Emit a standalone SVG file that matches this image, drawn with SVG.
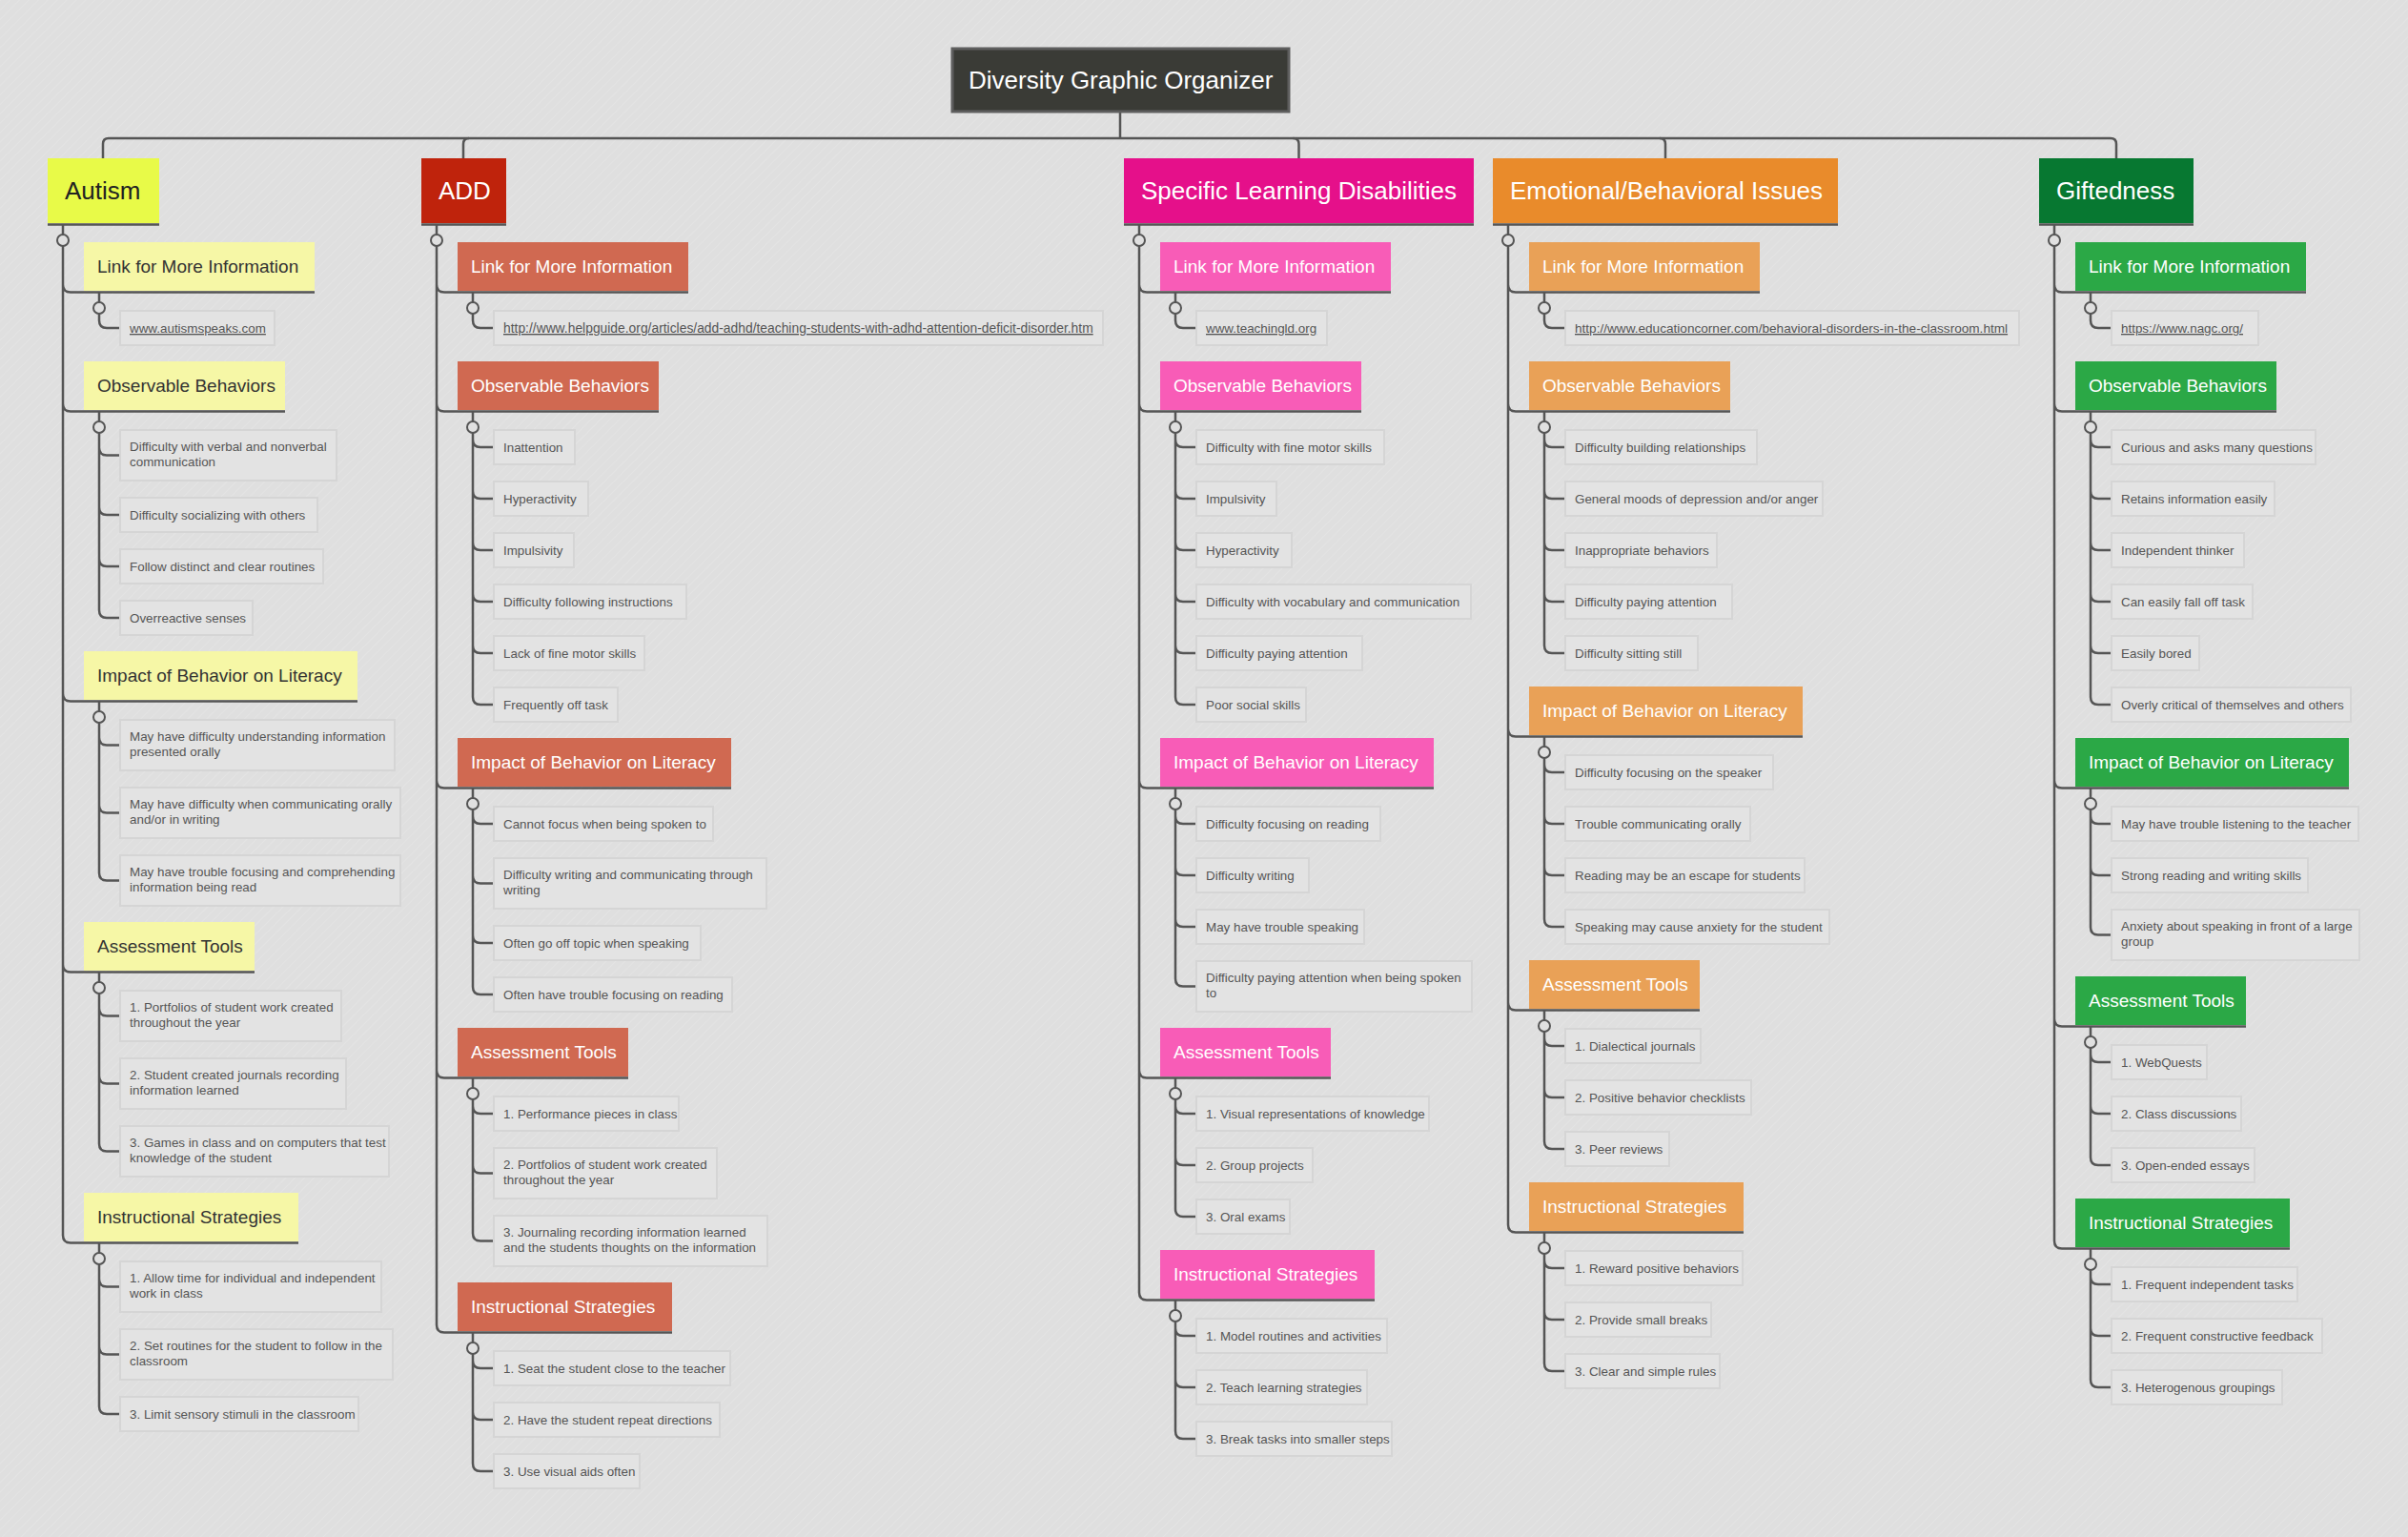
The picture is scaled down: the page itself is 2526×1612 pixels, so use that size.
<svg xmlns="http://www.w3.org/2000/svg" width="2526" height="1612" viewBox="0 0 2526 1612">
<defs>
<pattern id="bgp" width="7" height="7" patternUnits="userSpaceOnUse" patternTransform="rotate(45)">
<rect width="7" height="7" fill="#dfdfdf"/><line x1="0" y1="0" x2="0" y2="7" stroke="#e3e3e3" stroke-width="2"/>
</pattern>
<style>
text{font-family:'Liberation Sans',Arial,sans-serif}
.mt{font-size:26px;fill:#fff}
.tt{font-size:19px;fill:#fff}
.lf rect{fill:#e3e3e3;stroke:#d5d5d5;stroke-width:2}
.lf text{font-size:13.4px;fill:#555}
.url text{text-decoration:underline}
#connectors path{fill:none;stroke:#555;stroke-width:2.5}
#connectors circle{fill:#e0e0e0;stroke:#555;stroke-width:2}
.au .tp rect{fill:#f6f7a6}.au .tt{fill:#333}
.ad .tp rect{fill:#d06951}
.sl .tp rect{fill:#f85cb7}
.eb .tp rect{fill:#e9a157}
.gi .tp rect{fill:#2ba846}
</style>
</defs>
<rect width="2526" height="1612" fill="url(#bgp)"/>

<g id="connectors">
<path d="M1175,117 V145"/>
<path d="M108,166 V151 Q108,145 114,145 H2214 Q2220,145 2220,151 V166"/>
<path d="M486,166 V151 Q486,145 492,145"/>
<path d="M1356.5,145 Q1362.5,145 1362.5,151 V166"/>
<path d="M1741,145 Q1747,145 1747,151 V166"/>
<path d="M50,235.5 H167 M442,235.5 H531 M1179,235.5 H1546 M1566,235.5 H1928 M2139,235.5 H2301" stroke-width="3"/>
<!-- Autism -->
<path d="M66,235.5 V1295.5 M66,298.5 q0,8 8,8 H330 M66,423.5 q0,8 8,8 H299 M66,727.5 q0,8 8,8 H375 M66,1011.5 q0,8 8,8 H267 M66,1295.5 q0,8 8,8 H313"/>
<path d="M104,306.5 V336 M104,336 q0,8 8,8 H126"/>
<path d="M104,431.5 V640 M104,469.5 q0,8 8,8 H126 M104,532 q0,8 8,8 H126 M104,586 q0,8 8,8 H126 M104,640 q0,8 8,8 H126"/>
<path d="M104,735.5 V915.5 M104,773.5 q0,8 8,8 H126 M104,844.5 q0,8 8,8 H126 M104,915.5 q0,8 8,8 H126"/>
<path d="M104,1019.5 V1199.5 M104,1057.5 q0,8 8,8 H126 M104,1128.5 q0,8 8,8 H126 M104,1199.5 q0,8 8,8 H126"/>
<path d="M104,1303.5 V1475 M104,1341.5 q0,8 8,8 H126 M104,1412.5 q0,8 8,8 H126 M104,1475 q0,8 8,8 H126"/>
<!-- ADD -->
<path d="M458,235.5 V1389.5 M458,298.5 q0,8 8,8 H722 M458,423.5 q0,8 8,8 H691 M458,818.5 q0,8 8,8 H767 M458,1122.5 q0,8 8,8 H659 M458,1389.5 q0,8 8,8 H705"/>
<path d="M496,306.5 V336 M496,336 q0,8 8,8 H518"/>
<path d="M496,431.5 V731 M496,461 q0,8 8,8 H518 M496,515 q0,8 8,8 H518 M496,569 q0,8 8,8 H518 M496,623 q0,8 8,8 H518 M496,677 q0,8 8,8 H518 M496,731 q0,8 8,8 H518"/>
<path d="M496,826.5 V1035 M496,856 q0,8 8,8 H518 M496,918.5 q0,8 8,8 H518 M496,981 q0,8 8,8 H518 M496,1035 q0,8 8,8 H518"/>
<path d="M496,1130.5 V1293.5 M496,1160 q0,8 8,8 H518 M496,1222.5 q0,8 8,8 H518 M496,1293.5 q0,8 8,8 H518"/>
<path d="M496,1397.5 V1535 M496,1427 q0,8 8,8 H518 M496,1481 q0,8 8,8 H518 M496,1535 q0,8 8,8 H518"/>
<!-- SLD -->
<path d="M1195,235.5 V1355.5 M1195,298.5 q0,8 8,8 H1459 M1195,423.5 q0,8 8,8 H1428 M1195,818.5 q0,8 8,8 H1504 M1195,1122.5 q0,8 8,8 H1396 M1195,1355.5 q0,8 8,8 H1442"/>
<path d="M1233,306.5 V336 M1233,336 q0,8 8,8 H1255"/>
<path d="M1233,431.5 V731 M1233,461 q0,8 8,8 H1255 M1233,515 q0,8 8,8 H1255 M1233,569 q0,8 8,8 H1255 M1233,623 q0,8 8,8 H1255 M1233,677 q0,8 8,8 H1255 M1233,731 q0,8 8,8 H1255"/>
<path d="M1233,826.5 V1026.5 M1233,856 q0,8 8,8 H1255 M1233,910 q0,8 8,8 H1255 M1233,964 q0,8 8,8 H1255 M1233,1026.5 q0,8 8,8 H1255"/>
<path d="M1233,1130.5 V1268 M1233,1160 q0,8 8,8 H1255 M1233,1214 q0,8 8,8 H1255 M1233,1268 q0,8 8,8 H1255"/>
<path d="M1233,1363.5 V1501 M1233,1393 q0,8 8,8 H1255 M1233,1447 q0,8 8,8 H1255 M1233,1501 q0,8 8,8 H1255"/>
<!-- EBI -->
<path d="M1582,235.5 V1284.5 M1582,298.5 q0,8 8,8 H1846 M1582,423.5 q0,8 8,8 H1815 M1582,764.5 q0,8 8,8 H1891 M1582,1051.5 q0,8 8,8 H1783 M1582,1284.5 q0,8 8,8 H1829"/>
<path d="M1620,306.5 V336 M1620,336 q0,8 8,8 H1642"/>
<path d="M1620,431.5 V677 M1620,461 q0,8 8,8 H1642 M1620,515 q0,8 8,8 H1642 M1620,569 q0,8 8,8 H1642 M1620,623 q0,8 8,8 H1642 M1620,677 q0,8 8,8 H1642"/>
<path d="M1620,772.5 V964 M1620,802 q0,8 8,8 H1642 M1620,856 q0,8 8,8 H1642 M1620,910 q0,8 8,8 H1642 M1620,964 q0,8 8,8 H1642"/>
<path d="M1620,1059.5 V1197 M1620,1089 q0,8 8,8 H1642 M1620,1143 q0,8 8,8 H1642 M1620,1197 q0,8 8,8 H1642"/>
<path d="M1620,1292.5 V1430 M1620,1322 q0,8 8,8 H1642 M1620,1376 q0,8 8,8 H1642 M1620,1430 q0,8 8,8 H1642"/>
<!-- Giftedness -->
<path d="M2155,235.5 V1301.5 M2155,298.5 q0,8 8,8 H2419 M2155,423.5 q0,8 8,8 H2388 M2155,818.5 q0,8 8,8 H2464 M2155,1068.5 q0,8 8,8 H2356 M2155,1301.5 q0,8 8,8 H2402"/>
<path d="M2193,306.5 V336 M2193,336 q0,8 8,8 H2215"/>
<path d="M2193,431.5 V731 M2193,461 q0,8 8,8 H2215 M2193,515 q0,8 8,8 H2215 M2193,569 q0,8 8,8 H2215 M2193,623 q0,8 8,8 H2215 M2193,677 q0,8 8,8 H2215 M2193,731 q0,8 8,8 H2215"/>
<path d="M2193,826.5 V972.5 M2193,856 q0,8 8,8 H2215 M2193,910 q0,8 8,8 H2215 M2193,972.5 q0,8 8,8 H2215"/>
<path d="M2193,1076.5 V1214 M2193,1106 q0,8 8,8 H2215 M2193,1160 q0,8 8,8 H2215 M2193,1214 q0,8 8,8 H2215"/>
<path d="M2193,1309.5 V1447 M2193,1339 q0,8 8,8 H2215 M2193,1393 q0,8 8,8 H2215 M2193,1447 q0,8 8,8 H2215"/>
<!-- knobs -->
<circle cx="66" cy="252" r="6"/><circle cx="104" cy="323" r="6"/><circle cx="104" cy="448" r="6"/><circle cx="104" cy="752" r="6"/><circle cx="104" cy="1036" r="6"/><circle cx="104" cy="1320" r="6"/>
<circle cx="458" cy="252" r="6"/><circle cx="496" cy="323" r="6"/><circle cx="496" cy="448" r="6"/><circle cx="496" cy="843" r="6"/><circle cx="496" cy="1147" r="6"/><circle cx="496" cy="1414" r="6"/>
<circle cx="1195" cy="252" r="6"/><circle cx="1233" cy="323" r="6"/><circle cx="1233" cy="448" r="6"/><circle cx="1233" cy="843" r="6"/><circle cx="1233" cy="1147" r="6"/><circle cx="1233" cy="1380" r="6"/>
<circle cx="1582" cy="252" r="6"/><circle cx="1620" cy="323" r="6"/><circle cx="1620" cy="448" r="6"/><circle cx="1620" cy="789" r="6"/><circle cx="1620" cy="1076" r="6"/><circle cx="1620" cy="1309" r="6"/>
<circle cx="2155" cy="252" r="6"/><circle cx="2193" cy="323" r="6"/><circle cx="2193" cy="448" r="6"/><circle cx="2193" cy="843" r="6"/><circle cx="2193" cy="1093" r="6"/><circle cx="2193" cy="1326" r="6"/>
</g>

<g id="root"><rect x="999" y="51" width="353" height="66" fill="#3a3b36" stroke="#5e5e5e" stroke-width="3"/><text x="1016" y="93" class="mt">Diversity Graphic Organizer</text></g>

<!-- ================= AUTISM ================= -->
<g class="au">
<g id="autism"><rect x="50" y="166" width="117" height="68" fill="#e8fa48"/><text x="68" y="209" class="mt" style="fill:#222">Autism</text></g>
<g id="au-link" class="tp"><rect x="88" y="254" width="242" height="51"/><text x="102" y="286" class="tt">Link for More Information</text></g>
<g id="au-url" class="lf url"><rect x="126" y="326" width="162" height="36"/><text x="136" y="349">www.autismspeaks.com</text></g>
<g id="au-obs" class="tp"><rect x="88" y="379" width="211" height="51"/><text x="102" y="411" class="tt">Observable Behaviors</text></g>
<g id="au-obs1" class="lf"><rect x="126" y="451" width="227" height="53"/><text x="136" y="472.5">Difficulty with verbal and nonverbal</text><text x="136" y="488.5">communication</text></g>
<g id="au-obs2" class="lf"><rect x="126" y="522" width="207" height="36"/><text x="136" y="545">Difficulty socializing with others</text></g>
<g id="au-obs3" class="lf"><rect x="126" y="576" width="213" height="36"/><text x="136" y="599">Follow distinct and clear routines</text></g>
<g id="au-obs4" class="lf"><rect x="126" y="630" width="139" height="36"/><text x="136" y="653">Overreactive senses</text></g>
<g id="au-imp" class="tp"><rect x="88" y="683" width="287" height="51"/><text x="102" y="715" class="tt">Impact of Behavior on Literacy</text></g>
<g id="au-imp1" class="lf"><rect x="126" y="755" width="288" height="53"/><text x="136" y="776.5">May have difficulty understanding information</text><text x="136" y="792.5">presented orally</text></g>
<g id="au-imp2" class="lf"><rect x="126" y="826" width="294" height="53"/><text x="136" y="847.5">May have difficulty when communicating orally</text><text x="136" y="863.5">and/or in writing</text></g>
<g id="au-imp3" class="lf"><rect x="126" y="897" width="294" height="53"/><text x="136" y="918.5">May have trouble focusing and comprehending</text><text x="136" y="934.5">information being read</text></g>
<g id="au-ass" class="tp"><rect x="88" y="967" width="179" height="51"/><text x="102" y="999" class="tt">Assessment Tools</text></g>
<g id="au-ass1" class="lf"><rect x="126" y="1039" width="232" height="53"/><text x="136" y="1060.5">1. Portfolios of student work created</text><text x="136" y="1076.5">throughout the year</text></g>
<g id="au-ass2" class="lf"><rect x="126" y="1110" width="237" height="53"/><text x="136" y="1131.5">2. Student created journals recording</text><text x="136" y="1147.5">information learned</text></g>
<g id="au-ass3" class="lf"><rect x="126" y="1181" width="282" height="53"/><text x="136" y="1202.5">3. Games in class and on computers that test</text><text x="136" y="1218.5">knowledge of the student</text></g>
<g id="au-ins" class="tp"><rect x="88" y="1251" width="225" height="51"/><text x="102" y="1283" class="tt">Instructional Strategies</text></g>
<g id="au-ins1" class="lf"><rect x="126" y="1323" width="274" height="53"/><text x="136" y="1344.5">1. Allow time for individual and independent</text><text x="136" y="1360.5">work in class</text></g>
<g id="au-ins2" class="lf"><rect x="126" y="1394" width="286" height="53"/><text x="136" y="1415.5">2. Set routines for the student to follow in the</text><text x="136" y="1431.5">classroom</text></g>
<g id="au-ins3" class="lf"><rect x="126" y="1465" width="250" height="36"/><text x="136" y="1488">3. Limit sensory stimuli in the classroom</text></g>
</g>

<!-- ================= ADD ================= -->
<g class="ad">
<g id="add"><rect x="442" y="166" width="89" height="68" fill="#bf230c"/><text x="460" y="209" class="mt">ADD</text></g>
<g id="ad-link" class="tp"><rect x="480" y="254" width="242" height="51"/><text x="494" y="286" class="tt">Link for More Information</text></g>
<g id="ad-url" class="lf url"><rect x="518" y="326" width="639" height="36"/><text x="528" y="349" style="font-size:13.85px">http://www.helpguide.org/articles/add-adhd/teaching-students-with-adhd-attention-deficit-disorder.htm</text></g>
<g id="ad-obs" class="tp"><rect x="480" y="379" width="211" height="51"/><text x="494" y="411" class="tt">Observable Behaviors</text></g>
<g id="ad-obs1" class="lf"><rect x="518" y="451" width="85" height="36"/><text x="528" y="474">Inattention</text></g>
<g id="ad-obs2" class="lf"><rect x="518" y="505" width="99" height="36"/><text x="528" y="528">Hyperactivity</text></g>
<g id="ad-obs3" class="lf"><rect x="518" y="559" width="84" height="36"/><text x="528" y="582">Impulsivity</text></g>
<g id="ad-obs4" class="lf"><rect x="518" y="613" width="202" height="36"/><text x="528" y="636">Difficulty following instructions</text></g>
<g id="ad-obs5" class="lf"><rect x="518" y="667" width="158" height="36"/><text x="528" y="690">Lack of fine motor skills</text></g>
<g id="ad-obs6" class="lf"><rect x="518" y="721" width="130" height="36"/><text x="528" y="744">Frequently off task</text></g>
<g id="ad-imp" class="tp"><rect x="480" y="774" width="287" height="51"/><text x="494" y="806" class="tt">Impact of Behavior on Literacy</text></g>
<g id="ad-imp1" class="lf"><rect x="518" y="846" width="230" height="36"/><text x="528" y="869">Cannot focus when being spoken to</text></g>
<g id="ad-imp2" class="lf"><rect x="518" y="900" width="286" height="53"/><text x="528" y="921.5">Difficulty writing and communicating through</text><text x="528" y="937.5">writing</text></g>
<g id="ad-imp3" class="lf"><rect x="518" y="971" width="217" height="36"/><text x="528" y="994">Often go off topic when speaking</text></g>
<g id="ad-imp4" class="lf"><rect x="518" y="1025" width="250" height="36"/><text x="528" y="1048">Often have trouble focusing on reading</text></g>
<g id="ad-ass" class="tp"><rect x="480" y="1078" width="179" height="51"/><text x="494" y="1110" class="tt">Assessment Tools</text></g>
<g id="ad-ass1" class="lf"><rect x="518" y="1150" width="194" height="36"/><text x="528" y="1173">1. Performance pieces in class</text></g>
<g id="ad-ass2" class="lf"><rect x="518" y="1204" width="234" height="53"/><text x="528" y="1225.5">2. Portfolios of student work created</text><text x="528" y="1241.5">throughout the year</text></g>
<g id="ad-ass3" class="lf"><rect x="518" y="1275" width="287" height="53"/><text x="528" y="1296.5">3. Journaling recording information learned</text><text x="528" y="1312.5">and the students thoughts on the information</text></g>
<g id="ad-ins" class="tp"><rect x="480" y="1345" width="225" height="51"/><text x="494" y="1377" class="tt">Instructional Strategies</text></g>
<g id="ad-ins1" class="lf"><rect x="518" y="1417" width="248" height="36"/><text x="528" y="1440">1. Seat the student close to the teacher</text></g>
<g id="ad-ins2" class="lf"><rect x="518" y="1471" width="237" height="36"/><text x="528" y="1494">2. Have the student repeat directions</text></g>
<g id="ad-ins3" class="lf"><rect x="518" y="1525" width="153" height="36"/><text x="528" y="1548">3. Use visual aids often</text></g>
</g>

<!-- ================= SLD ================= -->
<g class="sl">
<g id="sld"><rect x="1179" y="166" width="367" height="68" fill="#e5108a"/><text x="1197" y="209" class="mt">Specific Learning Disabilities</text></g>
<g id="sl-link" class="tp"><rect x="1217" y="254" width="242" height="51"/><text x="1231" y="286" class="tt">Link for More Information</text></g>
<g id="sl-url" class="lf url"><rect x="1255" y="326" width="137" height="36"/><text x="1265" y="349">www.teachingld.org</text></g>
<g id="sl-obs" class="tp"><rect x="1217" y="379" width="211" height="51"/><text x="1231" y="411" class="tt">Observable Behaviors</text></g>
<g id="sl-obs1" class="lf"><rect x="1255" y="451" width="197" height="36"/><text x="1265" y="474">Difficulty with fine motor skills</text></g>
<g id="sl-obs2" class="lf"><rect x="1255" y="505" width="84" height="36"/><text x="1265" y="528">Impulsivity</text></g>
<g id="sl-obs3" class="lf"><rect x="1255" y="559" width="100" height="36"/><text x="1265" y="582">Hyperactivity</text></g>
<g id="sl-obs4" class="lf"><rect x="1255" y="613" width="288" height="36"/><text x="1265" y="636">Difficulty with vocabulary and communication</text></g>
<g id="sl-obs5" class="lf"><rect x="1255" y="667" width="174" height="36"/><text x="1265" y="690">Difficulty paying attention</text></g>
<g id="sl-obs6" class="lf"><rect x="1255" y="721" width="115" height="36"/><text x="1265" y="744">Poor social skills</text></g>
<g id="sl-imp" class="tp"><rect x="1217" y="774" width="287" height="51"/><text x="1231" y="806" class="tt">Impact of Behavior on Literacy</text></g>
<g id="sl-imp1" class="lf"><rect x="1255" y="846" width="193" height="36"/><text x="1265" y="869">Difficulty focusing on reading</text></g>
<g id="sl-imp2" class="lf"><rect x="1255" y="900" width="118" height="36"/><text x="1265" y="923">Difficulty writing</text></g>
<g id="sl-imp3" class="lf"><rect x="1255" y="954" width="176" height="36"/><text x="1265" y="977">May have trouble speaking</text></g>
<g id="sl-imp4" class="lf"><rect x="1255" y="1008" width="289" height="53"/><text x="1265" y="1029.5">Difficulty paying attention when being spoken</text><text x="1265" y="1045.5">to</text></g>
<g id="sl-ass" class="tp"><rect x="1217" y="1078" width="179" height="51"/><text x="1231" y="1110" class="tt">Assessment Tools</text></g>
<g id="sl-ass1" class="lf"><rect x="1255" y="1150" width="244" height="36"/><text x="1265" y="1173">1. Visual representations of knowledge</text></g>
<g id="sl-ass2" class="lf"><rect x="1255" y="1204" width="122" height="36"/><text x="1265" y="1227">2. Group projects</text></g>
<g id="sl-ass3" class="lf"><rect x="1255" y="1258" width="98" height="36"/><text x="1265" y="1281">3. Oral exams</text></g>
<g id="sl-ins" class="tp"><rect x="1217" y="1311" width="225" height="51"/><text x="1231" y="1343" class="tt">Instructional Strategies</text></g>
<g id="sl-ins1" class="lf"><rect x="1255" y="1383" width="200" height="36"/><text x="1265" y="1406">1. Model routines and activities</text></g>
<g id="sl-ins2" class="lf"><rect x="1255" y="1437" width="179" height="36"/><text x="1265" y="1460">2. Teach learning strategies</text></g>
<g id="sl-ins3" class="lf"><rect x="1255" y="1491" width="205" height="36"/><text x="1265" y="1514">3. Break tasks into smaller steps</text></g>
</g>

<!-- ================= EBI ================= -->
<g class="eb">
<g id="ebi"><rect x="1566" y="166" width="362" height="68" fill="#e98b2b"/><text x="1584" y="209" class="mt">Emotional/Behavioral Issues</text></g>
<g id="eb-link" class="tp"><rect x="1604" y="254" width="242" height="51"/><text x="1618" y="286" class="tt">Link for More Information</text></g>
<g id="eb-url" class="lf url"><rect x="1642" y="326" width="476" height="36"/><text x="1652" y="349" style="font-size:13.6px">http://www.educationcorner.com/behavioral-disorders-in-the-classroom.html</text></g>
<g id="eb-obs" class="tp"><rect x="1604" y="379" width="211" height="51"/><text x="1618" y="411" class="tt">Observable Behaviors</text></g>
<g id="eb-obs1" class="lf"><rect x="1642" y="451" width="201" height="36"/><text x="1652" y="474">Difficulty building relationships</text></g>
<g id="eb-obs2" class="lf"><rect x="1642" y="505" width="270" height="36"/><text x="1652" y="528">General moods of depression and/or anger</text></g>
<g id="eb-obs3" class="lf"><rect x="1642" y="559" width="159" height="36"/><text x="1652" y="582">Inappropriate behaviors</text></g>
<g id="eb-obs4" class="lf"><rect x="1642" y="613" width="175" height="36"/><text x="1652" y="636">Difficulty paying attention</text></g>
<g id="eb-obs5" class="lf"><rect x="1642" y="667" width="139" height="36"/><text x="1652" y="690">Difficulty sitting still</text></g>
<g id="eb-imp" class="tp"><rect x="1604" y="720" width="287" height="51"/><text x="1618" y="752" class="tt">Impact of Behavior on Literacy</text></g>
<g id="eb-imp1" class="lf"><rect x="1642" y="792" width="218" height="36"/><text x="1652" y="815">Difficulty focusing on the speaker</text></g>
<g id="eb-imp2" class="lf"><rect x="1642" y="846" width="194" height="36"/><text x="1652" y="869">Trouble communicating orally</text></g>
<g id="eb-imp3" class="lf"><rect x="1642" y="900" width="251" height="36"/><text x="1652" y="923">Reading may be an escape for students</text></g>
<g id="eb-imp4" class="lf"><rect x="1642" y="954" width="277" height="36"/><text x="1652" y="977">Speaking may cause anxiety for the student</text></g>
<g id="eb-ass" class="tp"><rect x="1604" y="1007" width="179" height="51"/><text x="1618" y="1039" class="tt">Assessment Tools</text></g>
<g id="eb-ass1" class="lf"><rect x="1642" y="1079" width="142" height="36"/><text x="1652" y="1102">1. Dialectical journals</text></g>
<g id="eb-ass2" class="lf"><rect x="1642" y="1133" width="195" height="36"/><text x="1652" y="1156">2. Positive behavior checklists</text></g>
<g id="eb-ass3" class="lf"><rect x="1642" y="1187" width="109" height="36"/><text x="1652" y="1210">3. Peer reviews</text></g>
<g id="eb-ins" class="tp"><rect x="1604" y="1240" width="225" height="51"/><text x="1618" y="1272" class="tt">Instructional Strategies</text></g>
<g id="eb-ins1" class="lf"><rect x="1642" y="1312" width="186" height="36"/><text x="1652" y="1335">1. Reward positive behaviors</text></g>
<g id="eb-ins2" class="lf"><rect x="1642" y="1366" width="153" height="36"/><text x="1652" y="1389">2. Provide small breaks</text></g>
<g id="eb-ins3" class="lf"><rect x="1642" y="1420" width="162" height="36"/><text x="1652" y="1443">3. Clear and simple rules</text></g>
</g>

<!-- ================= GIFTEDNESS ================= -->
<g class="gi">
<g id="gifted"><rect x="2139" y="166" width="162" height="68" fill="#077831"/><text x="2157" y="209" class="mt">Giftedness</text></g>
<g id="gi-link" class="tp"><rect x="2177" y="254" width="242" height="51"/><text x="2191" y="286" class="tt">Link for More Information</text></g>
<g id="gi-url" class="lf url"><rect x="2215" y="326" width="154" height="36"/><text x="2225" y="349">https://www.nagc.org/</text></g>
<g id="gi-obs" class="tp"><rect x="2177" y="379" width="211" height="51"/><text x="2191" y="411" class="tt">Observable Behaviors</text></g>
<g id="gi-obs1" class="lf"><rect x="2215" y="451" width="214" height="36"/><text x="2225" y="474">Curious and asks many questions</text></g>
<g id="gi-obs2" class="lf"><rect x="2215" y="505" width="171" height="36"/><text x="2225" y="528">Retains information easily</text></g>
<g id="gi-obs3" class="lf"><rect x="2215" y="559" width="139" height="36"/><text x="2225" y="582">Independent thinker</text></g>
<g id="gi-obs4" class="lf"><rect x="2215" y="613" width="148" height="36"/><text x="2225" y="636">Can easily fall off task</text></g>
<g id="gi-obs5" class="lf"><rect x="2215" y="667" width="92" height="36"/><text x="2225" y="690">Easily bored</text></g>
<g id="gi-obs6" class="lf"><rect x="2215" y="721" width="251" height="36"/><text x="2225" y="744">Overly critical of themselves and others</text></g>
<g id="gi-imp" class="tp"><rect x="2177" y="774" width="287" height="51"/><text x="2191" y="806" class="tt">Impact of Behavior on Literacy</text></g>
<g id="gi-imp1" class="lf"><rect x="2215" y="846" width="259" height="36"/><text x="2225" y="869">May have trouble listening to the teacher</text></g>
<g id="gi-imp2" class="lf"><rect x="2215" y="900" width="206" height="36"/><text x="2225" y="923">Strong reading and writing skills</text></g>
<g id="gi-imp3" class="lf"><rect x="2215" y="954" width="260" height="53"/><text x="2225" y="975.5">Anxiety about speaking in front of a large</text><text x="2225" y="991.5">group</text></g>
<g id="gi-ass" class="tp"><rect x="2177" y="1024" width="179" height="51"/><text x="2191" y="1056" class="tt">Assessment Tools</text></g>
<g id="gi-ass1" class="lf"><rect x="2215" y="1096" width="100" height="36"/><text x="2225" y="1119">1. WebQuests</text></g>
<g id="gi-ass2" class="lf"><rect x="2215" y="1150" width="136" height="36"/><text x="2225" y="1173">2. Class discussions</text></g>
<g id="gi-ass3" class="lf"><rect x="2215" y="1204" width="150" height="36"/><text x="2225" y="1227">3. Open-ended essays</text></g>
<g id="gi-ins" class="tp"><rect x="2177" y="1257" width="225" height="51"/><text x="2191" y="1289" class="tt">Instructional Strategies</text></g>
<g id="gi-ins1" class="lf"><rect x="2215" y="1329" width="195" height="36"/><text x="2225" y="1352">1. Frequent independent tasks</text></g>
<g id="gi-ins2" class="lf"><rect x="2215" y="1383" width="221" height="36"/><text x="2225" y="1406">2. Frequent constructive feedback</text></g>
<g id="gi-ins3" class="lf"><rect x="2215" y="1437" width="179" height="36"/><text x="2225" y="1460">3. Heterogenous groupings</text></g>
</g>
</svg>
